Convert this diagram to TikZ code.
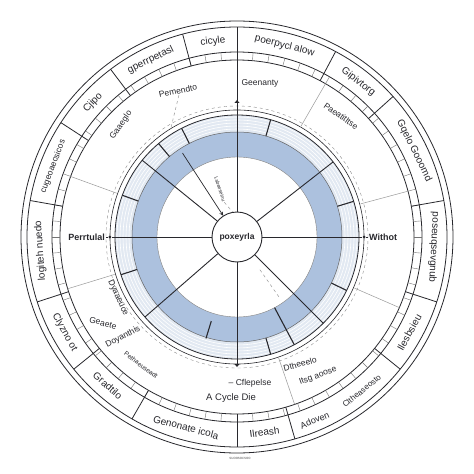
\documentclass[tikz,border=0pt]{standalone}
\usepackage{fontspec}
\setmainfont{Liberation Sans}
\definecolor{ringblue}{RGB}{172,193,222}
\definecolor{bandlight}{RGB}{226,233,242}
\definecolor{ink}{RGB}{40,40,45}
\begin{document}
\begin{tikzpicture}[
  ringline/.style={draw=ink, line width=0.8pt},
  faint/.style={draw=black!40, line width=0.5pt},
  spoke/.style={draw=ink, line width=0.9pt},
  bandseg/.style={draw=ink, line width=1.1pt},
  tickmark/.style={draw=black!55, line width=0.4pt},
  bandlbl/.style={font=\fontsize{10}{12}\selectfont, text=ink, inner sep=1pt},
  inlbl/.style={font=\fontsize{8.5}{10}\selectfont, text=ink, inner sep=1pt},
  smalllbl/.style={font=\fontsize{6.5}{8}\selectfont, text=ink, inner sep=1pt},
  sidelbl/.style={font=\bfseries\fontsize{9}{11}\selectfont, text=ink, inner sep=1pt},
  tipdot/.style={circle, fill=ink, inner sep=0pt, minimum size=3pt},
]
\useasboundingbox (-237pt,-237pt) rectangle (237pt,237pt);
\fill[white] (-237pt,-237pt) rectangle (237pt,237pt);

% outer rings
\draw[ringline] (0,0) circle (216pt);
\draw[ringline] (0,0) circle (210pt);
\draw[ringline] (0,0) circle (185pt);
\draw[ringline] (0,0) circle (177pt);

% tick ring
\foreach \a in {0,5,...,355} \draw[tickmark] (\a:177pt) -- (\a:185pt);

% label band dividers
\foreach \a in {10,42,62,105,127,147,170,198,219,240,270,286,321,342}
  \draw[ringline] (\a:177pt) -- (\a:210pt);

% faint radial lines in the open area
\foreach \a in {160,15,-23.5,-71,60,197}
  \draw[faint] (\a:128pt) -- (\a:177pt);

% inner bands
\fill[bandlight] (0,0) circle (122pt);
\foreach \r in {108,111,114,117,120} \draw[white, line width=0.6pt] (0,0) circle (\r pt);
\fill[ringblue] (0,0) circle (105pt);
\fill[white] (0,0) circle (80pt);
\draw[draw=black!60, line width=0.5pt] (0,0) circle (105pt);
\draw[draw=black!50, line width=0.4pt] (0,0) circle (80pt);
\draw[ringline] (0,0) circle (122pt);
\draw[draw=ink, line width=0.6pt] (0,0) circle (127pt);
\draw[draw=black!45, line width=0.4pt, dashed] (0,0) circle (131pt);

% partial dark segments across light band
\foreach \a in {160,130,117,74,17,-26,-74,198} \draw[bandseg] (\a:105pt) -- (\a:122pt);
\draw[bandseg] (-62:80pt) -- (-62:122pt);
\draw[bandseg] (253:88pt) -- (253:106pt);

% hub
\node[circle, draw=ink, line width=0.9pt, fill=white, minimum size=50pt, inner sep=0pt,
      font=\bfseries\fontsize{8.5}{10}\selectfont, text=ink] (hub) at (0,0) {poxeyrla};

% spokes
\foreach \a in {38,141,221,315} {
  \coordinate (s\a) at (\a:122pt);
  \draw[spoke] (hub.\a) -- (s\a);
}
\coordinate (topend) at (90:210pt);
\draw[spoke] (hub.north) -- (topend);
\coordinate (botend) at (270:127pt);
\draw[spoke] (hub.south) -- (botend);
\node[tipdot] (leftdot) at (180:127pt) {};
\node[tipdot] (rightdot) at (0:127pt) {};
\draw[spoke] (hub.west) -- (leftdot);
\draw[spoke] (hub.east) -- (rightdot);
\fill[ink] (botend) ++(-2.5pt,0) -- ++(5pt,0) -- ++(-2.5pt,-3pt) -- cycle;
\fill[ink] (90:134pt) ++(-2.5pt,0) -- ++(5pt,0) -- ++(-2.5pt,3pt) -- cycle;

% arrow from band to hub
\coordinate (arrA) at (123:100pt);
\draw[spoke, line width=0.7pt, -stealth] (arrA) -- (hub.123);
\node[smalllbl, rotate=-72, font=\fontsize{5}{6}\selectfont] (lsb) at (-17pt,48pt) {Lsbeeseinu};
\draw[faint, dashed] (lsb.east) -- (hub.100);
\coordinate (dlA) at (-55:40pt);
\coordinate (dlB) at (-55:75pt);
\draw[faint, dashed] (dlA) -- (dlB);

% side labels
\node[sidelbl, anchor=east] (perr) at (-131pt,0pt) {Perrtulal};
\node[sidelbl, anchor=west] (with) at (131pt,0pt) {Withot};
\draw[ink, line width=0.6pt] (perr.east) -- (leftdot);
\draw[ink, line width=0.6pt] (with.west) -- (rightdot);

% labels in band ring
\node[bandlbl, rotate=7]   (b1)  at (97:197pt)  {cicyle};
\node[bandlbl, rotate=-14] (b2)  at (76:197pt)  {poerpycl alow};
\node[bandlbl, rotate=-38] (b3)  at (52:197pt)  {Gipivtorg};
\node[bandlbl, rotate=-64] (b4)  at (26:197pt)  {Gqelo Gooomd};
\node[bandlbl, rotate=-93] (b5)  at (-3:197pt)  {poseuqsevgnub};
\node[bandlbl, rotate=61]  (b6)  at (331:197pt) {Ilesbsieu};
\node[bandlbl, rotate=39, font=\fontsize{8}{10}\selectfont] (b6b) at (-51:198pt) {Cltheaseosto};
\node[bandlbl, rotate=23, font=\fontsize{9}{11}\selectfont]  (b7)  at (-67:199pt) {Adoven};
\node[bandlbl, rotate=8]   (b8)  at (278:197pt) {Ilreash};
\node[bandlbl, rotate=-15] (b9)  at (255:197pt) {Genonate icola};
\node[bandlbl, rotate=-41] (b10) at (229:197pt) {Gradtilo};
\node[bandlbl, rotate=-61] (b11) at (209:197pt) {Clyzno ot};
\node[bandlbl, rotate=94]  (b12) at (184:197pt) {logiteh nuedo};
\node[bandlbl, rotate=69, font=\fontsize{8.5}{10}\selectfont]  (b13) at (159:197pt) {cugeoaecsicos};
\node[bandlbl, rotate=47]  (b14) at (137:197pt) {Cjipo};
\node[bandlbl, rotate=26]  (b15) at (116:197pt) {gperrpetasl};

% inner labels
\node[inlbl] (geen) at (23pt,154pt) {Geenanty};
\node[inlbl, rotate=12] (pem) at (-59pt,146pt) {Pemendto};
\coordinate (pemend) at (121:128pt);
\draw[faint, dashed] (pem.south) -- (pemend);
\node[inlbl, rotate=55] (gaa) at (-116pt,112pt) {Gaaeglo};
\node[inlbl, rotate=-35] (pae) at (104pt,121pt) {Paeatitltse};
\node[inlbl, rotate=-65] (dya) at (-119pt,-61pt) {Dyaaeuce};
\node[inlbl, rotate=-15] (gea) at (-134pt,-86pt) {Geaete};
\node[inlbl, rotate=28] (doy) at (-114pt,-100pt) {Doyanthis};
\node[smalllbl, rotate=-37] (peth) at (-96pt,-128pt) {Pethaeuseadt};
\node[inlbl, rotate=15] (dth) at (63pt,-127pt) {Dtheeelo};
\node[inlbl, rotate=20] (its) at (81pt,-139pt) {Itsg aoose};
\node[inlbl] (cfl) at (13pt,-146pt) {– Cflepelse};
\node[font=\fontsize{9.5}{11}\selectfont, text=ink, inner sep=1pt] (acy) at (-6pt,-161pt) {A Cycle Die};
\node[font=\fontsize{4}{5}\selectfont, text=black!60, inner sep=0pt] (tiny) at (3pt,-221pt) {suoosocsoo};
\end{tikzpicture}
\end{document}
